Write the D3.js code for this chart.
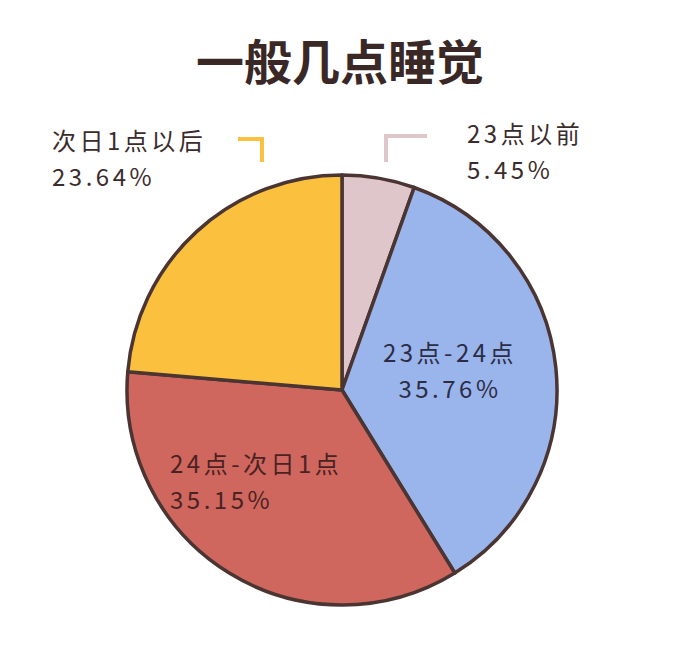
<!DOCTYPE html>
<html>
<head>
<meta charset="utf-8">
<script src="https://cdn.jsdelivr.net/npm/d3@7"></script>
<style>
  body { margin: 0; background: #fff; }
  svg { display: block; }
  text { font-family: "Noto Sans CJK SC", "Noto Sans", sans-serif; }
</style>
</head>
<body>
<svg id="chart" width="676" height="651"></svg>
<script>
// 数据
var categories = ["23点以前", "23点-24点", "24点-次日1点", "次日1点以后"];
var values = [5.45, 35.76, 35.15, 23.64];
var colors = ["#dec6ca", "#9ab4ec", "#d0675f", "#fcc03f"];
var textColors = ["#3a2c2c", "#2c2c44", "#4a2222", "#3a2c2c"];

var svg = d3.select("#chart");
var cx = 342, cy = 390, r = 215;

svg.append("text")
    .attr("x", 340)
    .attr("y", 80)
    .attr("text-anchor", "middle")
    .style("font-size", "48px")
    .style("font-weight", "bold")
    .style("fill", "#3a2826")
    .text("一般几点睡觉");

var pie = d3.pie().sort(null).value(function (d) { return d; });
var arc = d3.arc().innerRadius(0).outerRadius(r);
var arcs = pie(values);

var g = svg.append("g").attr("transform", "translate(" + cx + "," + cy + ")");

g.selectAll("path")
    .data(arcs)
    .enter()
    .append("path")
    .attr("d", arc)
    .style("fill", function (d, i) { return colors[i]; })
    .style("stroke", "#4a3533")
    .style("stroke-width", 3.5)
    .style("stroke-linejoin", "round");

// 标签：两行文字
function label(i, x, y, anchor) {
    [categories[i], values[i].toFixed(2) + "%"].forEach(function (s, k) {
        svg.append("text")
            .attr("x", x)
            .attr("y", y + k * 36)
            .attr("text-anchor", anchor)
            .style("font-size", "24px")
            .style("letter-spacing", "3.5px")
            .style("fill", textColors[i])
            .text(s);
    });
}

label(1, 450, 362, "middle");
label(2, 170, 473, "start");
label(0, 467, 143, "start");
label(3, 52, 150, "start");

// 小角标
svg.append("path")
    .attr("d", "M386,162 L386,136 L427,136")
    .style("fill", "none")
    .style("stroke", colors[0])
    .style("stroke-width", 4);

svg.append("path")
    .attr("d", "M238,139 L262,139 L262,162")
    .style("fill", "none")
    .style("stroke", colors[3])
    .style("stroke-width", 4);
</script>
</body>
</html>
